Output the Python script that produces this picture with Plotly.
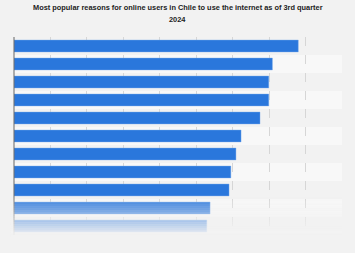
import plotly.graph_objects as go

categories = [f"Reason {i}" for i in range(1, 12)]
values = [78.0, 70.9, 69.9, 69.9, 67.5, 62.3, 60.9, 59.5, 59.0, 53.8, 52.9]
title_lines = ["Most popular reasons for online users in Chile to use the internet as of 3rd quarter", "2024"]

BG = "#f2f2f2"
STRIPE = "#f8f8f8"
BAR = "#2a77dc"

W, H = 355, 253
ML, MR, MT, MB = 14, 13, 37, 18
plot_h = H - MT - MB
plot_w = W - ML - MR

fig = go.Figure(go.Bar(
    x=values, y=categories, orientation="h",
    marker=dict(color=BAR, line=dict(color="rgba(120,170,235,0.7)", width=0.6)),
    width=0.66,
))

shapes = []
for i, c in enumerate(categories):
    if i % 2 == 1:
        shapes.append(dict(type="rect", xref="paper", yref="y", x0=0, x1=1,
                           y0=i - 0.5, y1=i + 0.5, fillcolor=STRIPE,
                           line=dict(width=0), layer="below"))

shapes.append(dict(type="line", xref="paper", yref="paper", x0=0, x1=0, y0=0, y1=1,
                   line=dict(color="#666666", width=1), layer="above"))

y_start, y_end = 195.0, 239.0
n = 22
step = (y_end - y_start) / n
for k in range(n):
    ya = y_start + k * step
    yb = ya + step
    a = min(1.0, (k + 0.5) / n * 1.05)
    p0 = (H - MB - yb) / plot_h
    p1 = (H - MB - ya) / plot_h
    shapes.append(dict(type="rect", xref="paper", yref="paper", x0=-0.01, x1=1.0,
                       y0=p0, y1=p1 + 0.001, fillcolor=BG, opacity=a,
                       line=dict(width=0), layer="above"))

annotations = []
for text, yc in zip(title_lines, [7.5, 19.0]):
    annotations.append(dict(text=f"<b>{text}</b>", xref="paper", yref="paper",
                            x=(W / 2 - ML) / plot_w, xanchor="center",
                            y=1 + (MT - yc) / plot_h, yanchor="middle", showarrow=False,
                            font=dict(family="Liberation Sans, Arial, sans-serif", size=7.4, color="#222222")))

fig.update_layout(
    width=W, height=H,
    margin=dict(l=ML, r=MR, t=MT, b=MB),
    paper_bgcolor=BG, plot_bgcolor=BG,
    showlegend=False,
    shapes=shapes,
    annotations=annotations,
    xaxis=dict(range=[0, 90], dtick=10, showticklabels=False, showgrid=True,
               gridcolor="#d6d6d6", griddash="dash", gridwidth=1,
               zeroline=False, showline=False, fixedrange=True),
    yaxis=dict(autorange="reversed", showticklabels=False, showgrid=False,
               showline=False, zeroline=False, ticks=""),
    font=dict(family="Liberation Sans, Arial, sans-serif"),
)

fig.write_html("out.html")
